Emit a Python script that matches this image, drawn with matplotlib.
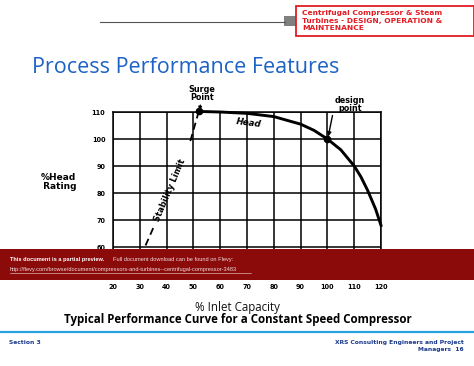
import numpy as np
import matplotlib
matplotlib.use("Agg")
import matplotlib.pyplot as plt
from matplotlib.patches import Rectangle
from matplotlib.lines import Line2D

W, H = 474, 366

# --- data ---
capacity_ticks = [20, 30, 40, 50, 60, 70, 80, 90, 100, 110, 120]
head_ticks = [60, 70, 80, 90, 100, 110]
head_x = [52, 60, 70, 80, 90, 95, 100, 105, 110, 112.5, 115, 118, 120]
head_y = [110.2, 110.0, 109.5, 108.3, 105.5, 103.2, 100.0, 96.0, 90.0, 86.0, 81.0, 74.0, 68.0]
stab_x = [52, 48.5, np.nan, 35.0, 31.0]
stab_y = [110.2, 98.0, np.nan, 67.0, 58.0]
surge_pt = (52, 110.2)
design_pt = (100, 100)


def fx(x):
    return x / W


def fy(y):
    return 1 - y / H


fig = plt.figure(figsize=(W / 100, H / 100), dpi=100)
fig.patch.set_facecolor("white")

# chart area: 20..120 -> px 113..381 ; 110..50 -> px 112..274
ax = fig.add_axes([fx(113), fy(274), (381 - 113) / W, (274 - 112) / H])
ax.set_xlim(20, 120)
ax.set_ylim(50, 110)
for v in capacity_ticks:
    ax.axvline(v, color="black", lw=1.1, zorder=1)
for v in head_ticks:
    ax.axhline(v, color="black", lw=1.1, zorder=1)
for s in ax.spines.values():
    s.set_color("black")
    s.set_linewidth(1.1)
ax.set_xticks(capacity_ticks)
ax.set_xticklabels([str(v) for v in capacity_ticks])
ax.set_yticks(head_ticks)
ax.set_yticklabels([str(v) for v in head_ticks])
ax.tick_params(length=0, labelsize=4.7, pad=5.5)
ax.tick_params(axis="x", pad=7.5)
for lab in ax.get_xticklabels() + ax.get_yticklabels():
    lab.set_fontweight("bold")
    lab.set_family("DejaVu Sans")

ax.plot(head_x, head_y, color="black", lw=2.1, clip_on=False, zorder=3)
ax.plot(stab_x, stab_y, color="black", lw=1.3, ls=(0, (4, 2.5)), clip_on=False, zorder=3)
ax.plot(*surge_pt, "o", color="black", ms=4.5, clip_on=False, zorder=4)
ax.plot(*design_pt, "o", color="black", ms=4.5, zorder=4)

ax.text(41.3, 81.0, "Stability Limit", rotation=67, ha="center", va="center",
        fontsize=6, fontweight="bold", zorder=4)
ax.text(70.5, 105.9, "Head", rotation=-7, ha="center", va="center",
        fontsize=6.3, fontweight="bold", style="italic", zorder=4)
ax.annotate("Surge\nPoint", xy=(52.3, 110.6), xytext=(53.2, 113.6),
            ha="center", va="bottom", fontsize=5.8, fontweight="bold",
            linespacing=0.9, annotation_clip=False,
            arrowprops=dict(arrowstyle="-|>", color="black", lw=0.9,
                            mutation_scale=5, shrinkA=0, shrinkB=0))
ax.text(108.4, 109.6, "design\npoint", ha="center", va="bottom", fontsize=5.8,
        fontweight="bold", linespacing=0.9, clip_on=False)
ax.annotate("", xy=(100.3, 100.9), xytext=(101.9, 108.7), annotation_clip=False,
            arrowprops=dict(arrowstyle="-|>", color="black", lw=1.0,
                            mutation_scale=6, shrinkA=0, shrinkB=0))
fig.text(fx(58), fy(182), "%Head\n Rating", ha="center", va="center",
         fontsize=6.5, fontweight="bold", linespacing=0.95)

# --- slide decoration ---
fig.add_artist(Line2D([fx(100), fx(285)], [fy(22), fy(22)], color="#555555", lw=0.8))
fig.add_artist(Rectangle((fx(284), fy(26)), 12 / W, 10 / H, color="#808080", lw=0))
fig.add_artist(Rectangle((fx(296), fy(35.5)), 178 / W, 29.5 / H, facecolor="white",
                         edgecolor="#e31b23", lw=1.3))
fig.text(fx(302), fy(21), "Centrifugal Compressor & Steam\nTurbines - DESIGN, OPERATION &\nMAINTENANCE",
         ha="left", va="center", fontsize=5.4, fontweight="bold", color="#e31b23",
         linespacing=1.3, family="DejaVu Sans")

fig.text(fx(32), fy(73), "Process Performance Features", ha="left", va="baseline",
         fontsize=15.5, color="#1c63c4", family="Open Sans")

fig.text(fx(237), fy(308), "% Inlet Capacity", ha="center", va="center",
         fontsize=8.3, color="#111111", family="Open Sans")
fig.text(fx(238), fy(320), "Typical Performance Curve for a Constant Speed Compressor",
         ha="center", va="center", fontsize=8.3, fontweight="bold", color="black",
         family="Open Sans")
fig.add_artist(Line2D([0, 1], [fy(332), fy(332)], color="#27a3dd", lw=1.6))
fig.text(fx(9), fy(343), "Section 3", ha="left", va="center", fontsize=4.3,
         fontweight="bold", color="#1a3a8c", family="DejaVu Sans")
fig.text(fx(464), fy(346), "XRS Consulting Engineers and Project\nManagers  16", ha="right",
         va="center", fontsize=4.3, fontweight="bold", color="#1a3a8c",
         family="DejaVu Sans", linespacing=1.5)

# preview banner over the chart
fig.add_artist(Rectangle((0, fy(280)), 1, 31 / H, color="#8b0a0a", lw=0, zorder=10))
fig.text(fx(10), fy(260), "This document is a partial preview.", ha="left", va="center",
         fontsize=4.1, fontweight="bold", color="white", family="Liberation Sans", zorder=11)
fig.text(fx(113), fy(260), "Full document download can be found on Flevy:", ha="left",
         va="center", fontsize=4.1, color="#f2dede", family="Liberation Sans", zorder=11)
fig.text(fx(10), fy(270),
         "http://flevy.com/browse/document/compressors-and-turbines--centrifugal-compressor-3483",
         ha="left", va="center", fontsize=4.1, color="#f2dede", family="Liberation Sans", zorder=11)
fig.add_artist(Line2D([fx(10), fx(251)], [fy(272.5), fy(272.5)], color="#f2dede", lw=0.4, zorder=11))

fig.savefig("out.png", dpi=100)
